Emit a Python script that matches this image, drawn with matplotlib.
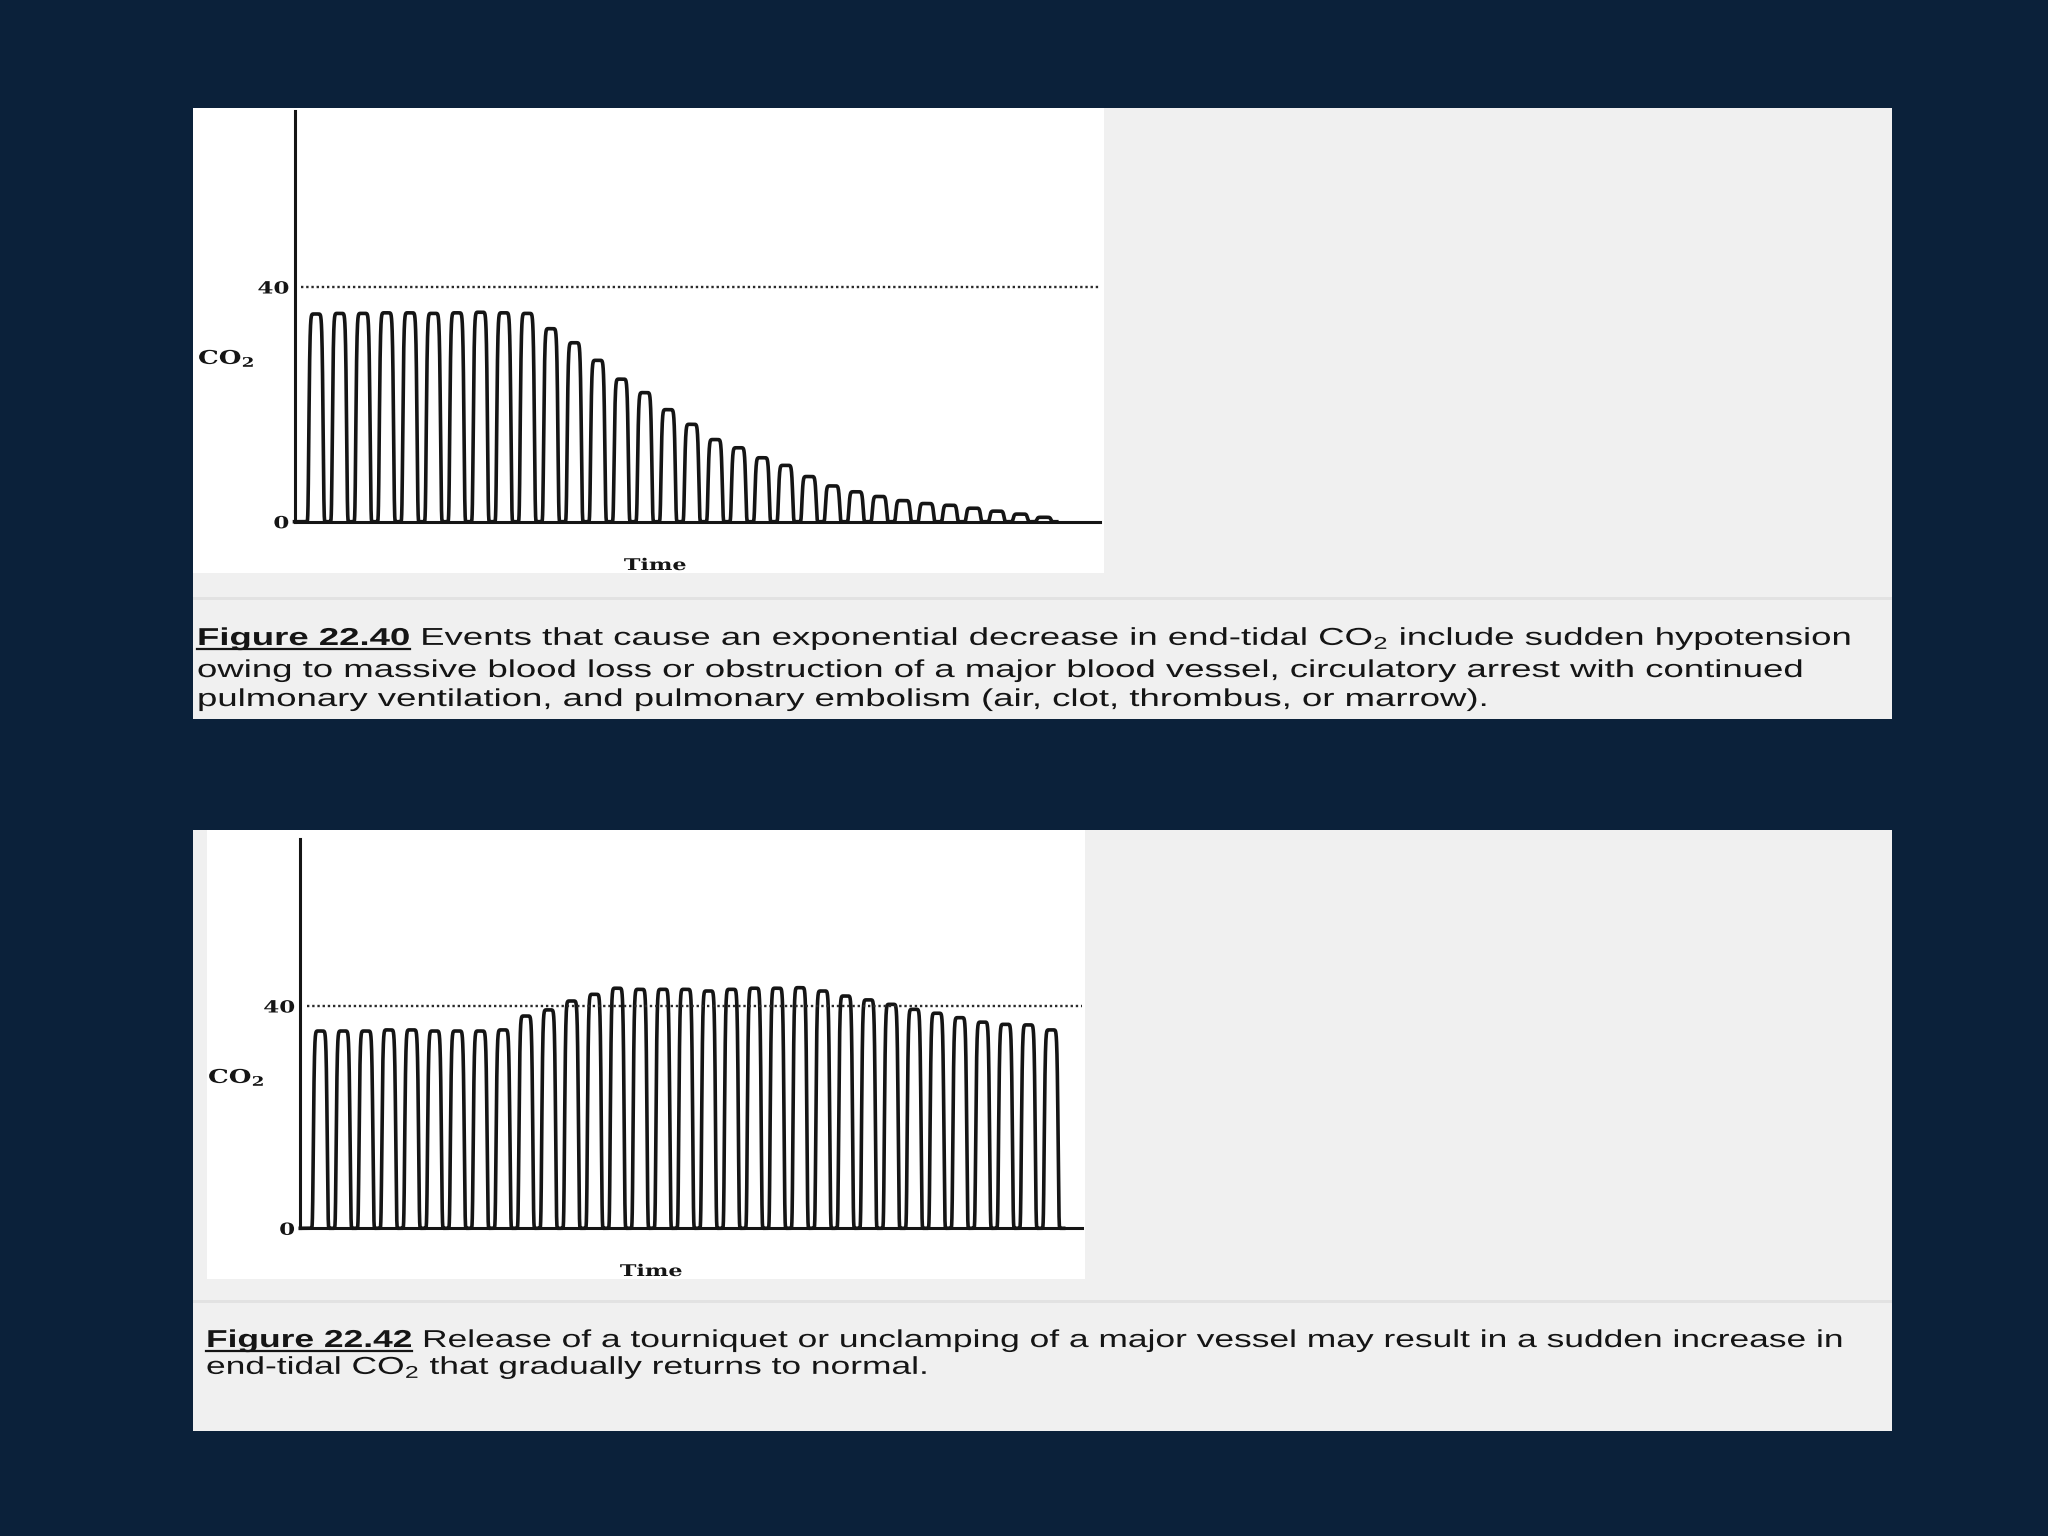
import numpy as np
import matplotlib
matplotlib.use('Agg')
import matplotlib.pyplot as plt
from matplotlib import patheffects
from matplotlib.transforms import Affine2D
from matplotlib.patches import Rectangle
from matplotlib.lines import Line2D

# peak end-tidal CO2 of every breath
decrease_peaks = [35.4, 35.5, 35.5, 35.6, 35.6, 35.5, 35.6, 35.7, 35.6, 35.5,
                  32.9, 30.5, 27.5, 24.3, 22.0, 19.1, 16.6, 14.0, 12.6, 10.9,
                  9.6, 7.7, 6.1, 5.1, 4.3, 3.6, 3.1, 2.8, 2.3, 1.8, 1.3, 0.75]
increase_peaks = [35.5, 35.5, 35.5, 35.7, 35.7, 35.5, 35.5, 35.5, 35.7,
                  38.2, 39.3, 40.9, 42.1, 43.2, 43.0, 43.0, 43.0, 42.7, 43.0,
                  43.2, 43.2, 43.3, 42.7, 41.8, 41.1, 40.3, 39.4, 38.7, 37.9,
                  37.1, 36.7, 36.6, 35.7]
y_ticks = [0, 40]
normal_co2 = 40
y_max = 70

caption_top_bold = "Figure 22.40"
caption_top = [" Events that cause an exponential decrease in end-tidal CO$_\\mathrm{2}$ include sudden hypotension",
               "owing to massive blood loss or obstruction of a major blood vessel, circulatory arrest with continued",
               "pulmonary ventilation, and pulmonary embolism (air, clot, thrombus, or marrow)."]
caption_bot_bold = "Figure 22.42"
caption_bot = [" Release of a tourniquet or unclamping of a major vessel may result in a sudden increase in",
               "end-tidal CO$_\\mathrm{2}$ that gradually returns to normal."]

NAVY = '#0b213a'
PANEL = '#f0f0f0'
INK = '#151515'
W, H = 2048, 1536
SX_LABEL = 1.38   # the slide image is stretched sideways
CAP_FS = 8.8

plt.rcParams['mathtext.fontset'] = 'custom'
plt.rcParams['mathtext.rm'] = 'Liberation Sans'
plt.rcParams['mathtext.bf'] = 'Liberation Sans:bold'


class HStretch(patheffects.AbstractPathEffect):
    """Widen text glyphs horizontally around an anchor."""

    def __init__(self, sx, anchor='left'):
        super().__init__()
        self.sx = sx
        self.anchor = anchor

    def draw_path(self, renderer, gc, tpath, affine, rgbFace=None):
        xs = tpath.vertices[:, 0] if len(tpath.vertices) else np.zeros(1)
        if self.anchor == 'center':
            cx = (xs.min() + xs.max()) / 2
        elif self.anchor == 'right':
            cx = xs.max()
        else:
            cx = 0
        stretch = Affine2D().translate(-cx, 0).scale(self.sx, 1).translate(cx, 0)
        renderer.draw_path(gc, tpath, stretch + affine, rgbFace)


def fx(x):
    return x / W


def fy(y):
    return 1 - y / H


fig = plt.figure(figsize=(W / 200, H / 200), dpi=200, facecolor=NAVY)


def box(x0, y0, x1, y1, color):
    fig.add_artist(Rectangle((fx(x0), fy(y1)), (x1 - x0) / W, (y1 - y0) / H,
                             transform=fig.transFigure, facecolor=color,
                             edgecolor='none', zorder=0))


# panels
box(193, 108, 1892, 719, PANEL)
box(193, 108, 1104, 573, 'white')
box(193, 597, 1892, 600, '#e2e2e2')
box(193, 830, 1892, 1431, PANEL)
box(207, 830, 1085, 1279, 'white')
box(193, 1300, 1892, 1303, '#e2e2e2')


def capnogram(left, right, zero_y, unit_px, first_px, period_px, peaks,
              co2_xy, time_xy):
    top = zero_y - y_max * unit_px
    ax = fig.add_axes([fx(left), fy(zero_y), (right - left) / W, (zero_y - top) / H])
    ax.set_facecolor('none')
    x_left = -(first_px - left) / period_px
    x_right = (right - first_px) / period_px
    ax.set_xlim(x_left, x_right)
    ax.set_ylim(0, y_max)

    t = np.linspace(x_left, len(peaks) - 0.45, len(peaks) * 300)
    y = np.zeros_like(t)
    for i, a in enumerate(peaks):
        y += a * np.exp(-np.abs((t - i) / 0.31) ** 10)
    ax.plot(t, y, color=INK, lw=1.3, clip_on=False, solid_joinstyle='round')

    ax.axhline(normal_co2, xmin=0.008, color='#2a2a2a', lw=0.85,
               linestyle=(0, (1, 1.2)))

    for s in ['top', 'right']:
        ax.spines[s].set_visible(False)
    for s in ['left', 'bottom']:
        ax.spines[s].set_linewidth(1.1)
        ax.spines[s].set_color(INK)
    ax.set_xticks([])
    ax.set_yticks(y_ticks)
    ax.set_yticklabels([str(v) for v in y_ticks])
    ax.tick_params(axis='y', length=0, pad=2.0, labelcolor=INK)
    for lbl in ax.get_yticklabels():
        lbl.set_fontfamily('DejaVu Serif')
        lbl.set_fontweight('bold')
        lbl.set_fontsize(6.0)
        lbl.set_path_effects([HStretch(SX_LABEL, 'right')])

    fig.text(fx(co2_xy[0]), fy(co2_xy[1]), 'CO$_\\mathbf{2}$', family='DejaVu Serif',
             fontweight='bold', fontsize=6.8, color=INK, ha='left', va='baseline',
             math_fontfamily='dejavuserif', path_effects=[HStretch(SX_LABEL)])
    fig.text(fx(time_xy[0]), fy(time_xy[1]), 'Time', family='DejaVu Serif',
             fontweight='bold', fontsize=5.8, color=INK, ha='center', va='baseline',
             path_effects=[HStretch(SX_LABEL, 'center')])
    return ax


capnogram(294.5, 1100, 521.7, 5.8675, 316, 23.48, decrease_peaks,
          (198, 364), (655, 570))
capnogram(300.3, 1082, 1228.3, 5.5575, 320.3, 22.84, increase_peaks,
          (208, 1083), (651, 1276))


renderer = fig.canvas.get_renderer()


def caption(x, baselines, bold, lines, sx):
    kw = dict(family=['Liberation Sans', 'DejaVu Sans'], fontsize=CAP_FS, color=INK,
              ha='left', va='baseline', math_fontfamily='custom')
    t = fig.text(fx(x), fy(baselines[0]), bold, fontweight='bold',
                 path_effects=[HStretch(sx)], **kw)
    w = t.get_window_extent(renderer).width * sx
    fig.add_artist(Line2D([fx(x), fx(x + w)], [fy(baselines[0] + 4)] * 2,
                          transform=fig.transFigure, color=INK, lw=0.8))
    fig.text(fx(x + w), fy(baselines[0]), lines[0],
             path_effects=[HStretch(sx)], **kw)
    for b, s in zip(baselines[1:], lines[1:]):
        fig.text(fx(x), fy(b), s, path_effects=[HStretch(sx)], **kw)


caption(197, [645, 677, 706], caption_top_bold, caption_top, 1.495)
caption(206, [1347, 1374], caption_bot_bold, caption_bot, 1.447)

fig.savefig('out.png', dpi=200, facecolor=NAVY)
